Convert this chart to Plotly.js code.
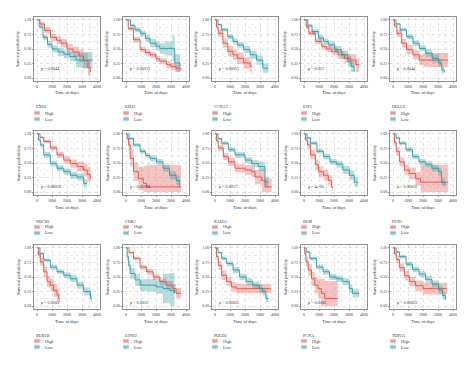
<!DOCTYPE html>
<html><head><meta charset="utf-8">
<script src="https://cdn.plot.ly/plotly-3.0.1.min.js"></script>
<style>html,body{margin:0;padding:0;background:#fff}#chart{width:474px;height:367px}</style>
</head><body><div id="chart"></div>
<script>
const genes = ["EXO1","EZH2","CCNA2","E2F1","HELLS","NDC80","CDK1","RAD51","BLM","FEN1","BUB1B","GINS2","POLD1","PCNA","TOP2A"];
const pValues = ["p = 0.0044","p = 0.00013","p = 0.00051","p = 0.031","p = 0.0044","p = 0.00053","p = 0.00084","p = 0.0017","p = 4e-05","p = 0.00051","p = 0.0003","p = 0.0023","p = 0.00025","p = 0.0003","p = 0.00023"];
const timeTicks = [0,1000,2000,3000,4000];
const survTicks = [0,0.25,0.5,0.75,1];
const groupNames = ["High","Low"];

const highTime = [
 [0,200,500,900,1300,1600,2000,2400,2800,3100,3400,3550],
 [0,150,500,940,1300,1600,2000,2250,2700,3000,3350,3650],
 [0,100,210,530,850,1200,1490,1900,2340,2450],
 [0,150,320,760,1190,1500,1840,2270,2700,3130,3460,3680],
 [0,100,260,580,900,1330,1750,2070,3680],
 [0,200,440,890,1330,1780,2220,2670,3110,3350,3560],
 [0,80,170,280,500,830,1160,1380,3670],
 [0,100,220,560,890,1330,2000,2440,2670,3110,3330,3780],
 [0,100,220,430,760,970,1300,1620,1840,1900],
 [0,100,220,430,760,1080,1510,1840,3680],
 [0,100,220,440,670,890,1110,1330,1440,1500],
 [0,200,500,940,1380,1810,2250,2690,3130,3340,3670],
 [0,100,220,440,770,1090,1420,3720],
 [0,50,130,280,500,720,940,1160,1380,2250],
 [0,100,220,430,760,1090,1500,2000,3600]
];
const highSurv = [
 [1,0.93,0.82,0.70,0.65,0.60,0.50,0.45,0.38,0.30,0.18,0.10],
 [1,0.85,0.66,0.49,0.44,0.40,0.33,0.29,0.23,0.20,0.17,0.13],
 [1,0.88,0.77,0.60,0.46,0.40,0.34,0.26,0.20,0.20],
 [1,0.88,0.77,0.63,0.54,0.50,0.46,0.40,0.34,0.31,0.23,0.23],
 [1,0.90,0.77,0.60,0.49,0.40,0.31,0.31,0.31],
 [1,0.94,0.87,0.76,0.64,0.55,0.49,0.44,0.38,0.30,0.23],
 [1,0.92,0.81,0.58,0.35,0.23,0.15,0.09,0.09],
 [1,0.88,0.76,0.61,0.52,0.41,0.38,0.35,0.26,0.20,0.09,0.09],
 [1,0.90,0.81,0.64,0.47,0.35,0.29,0.20,0.09,0.07],
 [1,0.85,0.70,0.52,0.38,0.32,0.23,0.17,0.17],
 [1,0.88,0.76,0.59,0.42,0.36,0.27,0.19,0.13,0.13],
 [1,0.92,0.82,0.67,0.59,0.50,0.42,0.36,0.30,0.22,0.22],
 [1,0.85,0.70,0.53,0.42,0.33,0.30,0.30],
 [1,0.90,0.76,0.62,0.47,0.36,0.30,0.22,0.13,0.13],
 [1,0.90,0.80,0.66,0.52,0.42,0.35,0.30,0.30]
];
const highHalfCI = [
 [0,0.03,0.05,0.06,0.07,0.07,0.08,0.09,0.11,0.13,0.14,0.10],
 [0,0.03,0.05,0.05,0.05,0.05,0.05,0.05,0.06,0.06,0.06,0.06],
 [0,0.04,0.06,0.08,0.09,0.09,0.10,0.10,0.11,0.11],
 [0,0.03,0.04,0.05,0.05,0.05,0.06,0.07,0.08,0.10,0.12,0.12],
 [0,0.04,0.06,0.07,0.08,0.08,0.09,0.12,0.15],
 [0,0.02,0.03,0.04,0.05,0.06,0.07,0.08,0.11,0.13,0.13],
 [0,0.06,0.10,0.14,0.16,0.20,0.30,0.38,0.38],
 [0,0.04,0.05,0.06,0.07,0.07,0.08,0.09,0.12,0.20,0.15,0.15],
 [0,0.04,0.06,0.08,0.09,0.09,0.09,0.09,0.08,0.07],
 [0,0.05,0.07,0.08,0.09,0.10,0.12,0.30,0.30],
 [0,0.05,0.07,0.09,0.10,0.11,0.11,0.11,0.10,0.10],
 [0,0.02,0.03,0.04,0.05,0.05,0.06,0.07,0.08,0.09,0.09],
 [0,0.05,0.07,0.08,0.08,0.08,0.08,0.14],
 [0,0.05,0.08,0.10,0.12,0.14,0.17,0.25,0.30,0.35],
 [0,0.04,0.06,0.07,0.08,0.08,0.09,0.10,0.14]
];
const lowTime = [
 [0,150,400,700,1000,1400,1800,2200,2600,3000,3700],
 [0,300,600,940,1300,1600,2000,2250,2600,3100,3250,3600],
 [0,200,425,850,1200,1490,1900,2340,2770,3190,3550],
 [0,250,540,970,1300,1620,2050,2490,2920,3130,3350],
 [0,200,470,900,1330,1750,2180,2610,3040,3250,3420],
 [0,100,220,440,890,1330,1780,2220,2670,3110,3330],
 [0,200,500,940,1300,1600,2030,2470,2900,3340,3560],
 [0,200,440,890,1330,2000,2440,2890,3330,3560],
 [0,200,430,860,1300,1730,2160,2590,3030,3350,3610],
 [0,200,430,860,1300,1730,2160,2590,3030,3240,3460],
 [0,200,440,890,1330,1780,2220,2670,3110,3560,3670],
 [0,80,175,280,610,940,1380,2030,2470,2910,3230],
 [0,200,440,770,1200,1640,2080,2510,2950,3170,3390,3550],
 [0,150,390,830,1270,1700,2140,2580,3020,3230,3670],
 [0,200,430,870,1300,1740,2170,2600,3040,3300,3500]
];
const lowSurv = [
 [1,0.88,0.70,0.58,0.50,0.45,0.41,0.37,0.31,0.31,0.31],
 [1,0.90,0.83,0.77,0.68,0.60,0.55,0.51,0.51,0.51,0.26,0.20],
 [1,0.92,0.83,0.71,0.63,0.57,0.49,0.40,0.31,0.17,0.17],
 [1,0.90,0.80,0.69,0.63,0.57,0.49,0.40,0.29,0.20,0.11],
 [1,0.93,0.83,0.71,0.60,0.51,0.43,0.34,0.26,0.14,0.11],
 [1,0.90,0.81,0.64,0.49,0.41,0.35,0.29,0.26,0.15,0.15],
 [1,0.92,0.81,0.70,0.63,0.58,0.52,0.41,0.29,0.20,0.09],
 [1,0.92,0.84,0.73,0.64,0.55,0.49,0.44,0.17,0.17],
 [1,0.93,0.84,0.70,0.61,0.52,0.48,0.38,0.29,0.17,0.17],
 [1,0.93,0.84,0.73,0.61,0.52,0.48,0.41,0.35,0.17,0.12],
 [1,0.90,0.79,0.67,0.59,0.53,0.47,0.36,0.25,0.13,0.13],
 [1,0.85,0.70,0.56,0.45,0.36,0.36,0.33,0.30,0.27,0.22],
 [1,0.92,0.82,0.73,0.62,0.50,0.42,0.36,0.30,0.25,0.13,0.13],
 [1,0.93,0.82,0.67,0.59,0.50,0.47,0.42,0.30,0.22,0.22],
 [1,0.93,0.85,0.72,0.63,0.55,0.46,0.38,0.28,0.18,0.12]
];
const lowHalfCI = [
 [0,0.03,0.05,0.06,0.06,0.07,0.07,0.08,0.13,0.14,0.14],
 [0,0.03,0.04,0.05,0.06,0.07,0.08,0.09,0.12,0.22,0.15,0.10],
 [0,0.02,0.03,0.04,0.05,0.05,0.06,0.07,0.08,0.08,0.08],
 [0,0.03,0.04,0.05,0.05,0.06,0.06,0.07,0.09,0.09,0.07],
 [0,0.02,0.03,0.04,0.05,0.05,0.06,0.07,0.07,0.06,0.05],
 [0,0.03,0.04,0.05,0.05,0.05,0.05,0.06,0.06,0.07,0.07],
 [0,0.02,0.03,0.04,0.04,0.05,0.05,0.06,0.07,0.08,0.07],
 [0,0.02,0.03,0.04,0.05,0.05,0.06,0.08,0.10,0.10],
 [0,0.02,0.03,0.04,0.05,0.05,0.06,0.07,0.08,0.08,0.08],
 [0,0.02,0.03,0.04,0.04,0.05,0.05,0.06,0.07,0.07,0.06],
 [0,0.02,0.03,0.04,0.04,0.05,0.05,0.06,0.07,0.07,0.07],
 [0,0.06,0.08,0.09,0.10,0.10,0.11,0.12,0.25,0.30,0.20],
 [0,0.02,0.03,0.04,0.05,0.05,0.06,0.06,0.07,0.07,0.06,0.06],
 [0,0.02,0.03,0.04,0.05,0.05,0.05,0.06,0.07,0.07,0.07],
 [0,0.02,0.03,0.04,0.05,0.05,0.06,0.06,0.07,0.07,0.06]
];

const W = 474, H = 367;
const colLeft = [34,123,212,301,390];
const rowTop = [17,131,245];
const boxW = 66, boxH = 64;
const RED = '#D65550', TEAL = '#2F9AA0';
const REDFILL = 'rgba(226,95,90,0.36)', TEALFILL = 'rgba(60,160,166,0.36)';
const FONT = 'Liberation Serif, Times New Roman, serif';
const INK = '#333333';
const pRowY = [0.17, 0.09, 0.06];

const traces = [], annotations = [], shapes = [];
const layout = {
  width: W, height: H, margin: {l:0,r:0,t:0,b:0},
  paper_bgcolor: '#fff', plot_bgcolor: '#fff', showlegend: false,
  font: {family: FONT, color: INK}
};
const clip = v => Math.max(0, Math.min(1, v));

function addSeries(T, S, Wd, fill, xa, ya) {
  const lower = S.map((s,k) => clip(s - Wd[k]));
  const upper = S.map((s,k) => clip(s + Wd[k]));
  traces.push({x:T, y:lower, xaxis:xa, yaxis:ya, mode:'lines', line:{width:0, shape:'hv'}, hoverinfo:'skip'});
  traces.push({x:T, y:upper, xaxis:xa, yaxis:ya, mode:'lines', line:{width:0, shape:'hv'}, fill:'tonexty', fillcolor:fill, hoverinfo:'skip'});
}

for (let i = 0; i < 15; i++) {
  const r = Math.floor(i/5), c = i % 5, n = i + 1;
  const xa = n === 1 ? 'x' : 'x' + n, ya = n === 1 ? 'y' : 'y' + n;
  const l = colLeft[c], t = rowTop[r];
  addSeries(highTime[i], highSurv[i], highHalfCI[i], REDFILL, xa, ya);
  addSeries(lowTime[i], lowSurv[i], lowHalfCI[i], TEALFILL, xa, ya);
  traces.push({x:highTime[i], y:highSurv[i], xaxis:xa, yaxis:ya, mode:'lines', line:{color:RED, width:0.9, shape:'hv'}});
  traces.push({x:lowTime[i], y:lowSurv[i], xaxis:xa, yaxis:ya, mode:'lines', line:{color:TEAL, width:0.9, shape:'hv'}});

  const common = {showline:true, mirror:true, linecolor:'#444', linewidth:0.6,
    ticks:'outside', ticklen:1.5, tickwidth:0.5, tickcolor:INK,
    tickfont:{size:3.9, family:FONT, color:INK}, zeroline:false,
    showgrid:true, gridcolor:'#c4c4c4', gridwidth:0.5, griddash:'dot', fixedrange:true};
  layout['xaxis' + (n===1?'':n)] = Object.assign({}, common, {
    domain:[l/W, (l+boxW)/W], anchor: ya, range:[-200,4200],
    tickmode:'array', tickvals: timeTicks, ticktext: timeTicks.map(String),
    minor:{showgrid:true, tickvals:[500,1500,2500,3500], gridcolor:'#d4d4d4', griddash:'dot', gridwidth:0.5}
  });
  layout['yaxis' + (n===1?'':n)] = Object.assign({}, common, {
    domain:[(H - t - boxH)/H, (H - t)/H], anchor: xa, range:[-0.05,1.05],
    tickmode:'array', tickvals: survTicks, ticktext: survTicks.map(v => v.toFixed(2)),
    minor:{showgrid:true, tickvals:[0.125,0.375,0.625,0.875], gridcolor:'#d4d4d4', griddash:'dot', gridwidth:0.5}
  });

  annotations.push({xref:xa, yref:ya, x:120, y:pRowY[r], text:pValues[i], showarrow:false,
    xanchor:'left', yanchor:'middle', font:{size:4.2, family:FONT, color:INK}});
  annotations.push({xref:'paper', yref:'paper', x:(l-16)/W, y:(H - t - boxH/2)/H, text:'Survival probability',
    textangle:-90, showarrow:false, xanchor:'center', yanchor:'middle', font:{size:4.5, family:FONT, color:INK}});
  annotations.push({xref:'paper', yref:'paper', x:(l + boxW/2)/W, y:(H - (t + boxH + 12))/H, text:'Time of days',
    showarrow:false, xanchor:'center', yanchor:'middle', font:{size:4.5, family:FONT, color:INK}});
  const b = t + boxH;
  annotations.push({xref:'paper', yref:'paper', x:(l)/W, y:(H - (b + 26))/H, text:genes[i],
    showarrow:false, xanchor:'left', yanchor:'middle', font:{size:4.2, family:FONT, color:INK}});
  const keyCols = [[RED, REDFILL], [TEAL, TEALFILL]];
  [32, 38].forEach((dy, k) => {
    const yc = b + dy;
    shapes.push({type:'rect', xref:'paper', yref:'paper', x0:(l+0.5)/W, x1:(l+5.5)/W, y0:(H-yc-2)/H, y1:(H-yc+2)/H,
      fillcolor:keyCols[k][1], line:{color:'#bbbbbb', width:0.4}});
    shapes.push({type:'line', xref:'paper', yref:'paper', x0:(l+0.5)/W, x1:(l+5.5)/W, y0:(H-yc)/H, y1:(H-yc)/H,
      line:{color:keyCols[k][0], width:0.8}});
    annotations.push({xref:'paper', yref:'paper', x:(l+9)/W, y:(H-yc)/H, text:groupNames[k],
      showarrow:false, xanchor:'left', yanchor:'middle', font:{size:4.2, family:FONT, color:INK}});
  });
}
traces.forEach(tr => tr.showlegend = false);
layout.annotations = annotations;
layout.shapes = shapes;
Plotly.newPlot('chart', traces, layout, {staticPlot:true, displayModeBar:false});
</script></body></html>
